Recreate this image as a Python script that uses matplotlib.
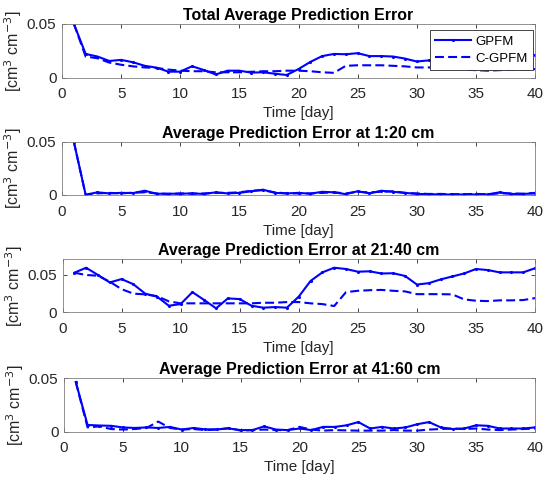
import matplotlib
matplotlib.use("Agg")
import matplotlib.pyplot as plt
import numpy as np

plt.rcParams['font.family'] = ['Liberation Sans', 'DejaVu Sans']

days = list(range(1, 41))

total_gpfm = [0.050, 0.022, 0.0196, 0.0155, 0.0165, 0.0143, 0.011, 0.0093, 0.0056, 0.0056,
              0.0106, 0.0071, 0.003, 0.0065, 0.0065, 0.0047, 0.005, 0.0037, 0.0025, 0.008,
              0.0146, 0.020, 0.022, 0.0217, 0.0227, 0.020, 0.020, 0.0196, 0.0177, 0.015,
              0.016, 0.0165, 0.017, 0.018, 0.018, 0.019, 0.019, 0.020, 0.020, 0.021]
total_cgpfm = [0.050, 0.0196, 0.018, 0.014, 0.012, 0.0105, 0.0095, 0.009, 0.0075, 0.0065,
               0.006, 0.006, 0.005, 0.005, 0.005, 0.0055, 0.006, 0.006, 0.0065, 0.0065,
               0.006, 0.005, 0.0045, 0.011, 0.0115, 0.0115, 0.0115, 0.011, 0.0105, 0.0095,
               0.0095, 0.0095, 0.0095, 0.0075, 0.007, 0.0065, 0.007, 0.0075, 0.0075, 0.008]

l1_gpfm = [0.050, 0.0003, 0.0025, 0.0015, 0.002, 0.0018, 0.004, 0.0012, 0.0012, 0.0012,
           0.0015, 0.001, 0.0025, 0.0015, 0.002, 0.0035, 0.005, 0.002, 0.0015, 0.002,
           0.0012, 0.003, 0.0025, 0.0008, 0.0035, 0.0015, 0.004, 0.003, 0.002, 0.001,
           0.0008, 0.0005, 0.0005, 0.0005, 0.0005, 0.0005, 0.0025, 0.001, 0.001, 0.0015]
l1_cgpfm = [0.050, 0.0, 0.0015, 0.002, 0.0015, 0.0022, 0.0025, 0.0015, 0.001, 0.0015,
            0.0012, 0.0015, 0.002, 0.002, 0.0025, 0.004, 0.0045, 0.0025, 0.0015, 0.0015,
            0.0015, 0.002, 0.0025, 0.0015, 0.003, 0.0025, 0.003, 0.0035, 0.002, 0.0015,
            0.001, 0.001, 0.0008, 0.0008, 0.001, 0.0008, 0.0015, 0.0015, 0.0012, 0.002]

l2_gpfm = [0.053, 0.0597, 0.050, 0.040, 0.0445, 0.0376, 0.025, 0.021, 0.0088, 0.011,
           0.027, 0.0164, 0.0053, 0.0186, 0.0177, 0.0088, 0.0062, 0.007, 0.0062, 0.021,
           0.042, 0.0535, 0.0597, 0.058, 0.0544, 0.0549, 0.052, 0.0523, 0.0487, 0.0372,
           0.039, 0.044, 0.048, 0.052, 0.058, 0.0566, 0.0535, 0.0535, 0.0535, 0.059]
l2_cgpfm = [0.053, 0.050, 0.049, 0.041, 0.031, 0.025, 0.024, 0.0217, 0.0146, 0.012,
            0.012, 0.012, 0.012, 0.012, 0.012, 0.012, 0.0128, 0.0128, 0.0137, 0.0137,
            0.012, 0.011, 0.0084, 0.027, 0.0288, 0.0296, 0.030, 0.0288, 0.028, 0.0243,
            0.0243, 0.0243, 0.024, 0.0173, 0.0155, 0.015, 0.016, 0.016, 0.0164, 0.019]

l3_gpfm = [0.0466, 0.0063, 0.0058, 0.0055, 0.004, 0.0035, 0.004, 0.0035, 0.0045, 0.002,
           0.0035, 0.0022, 0.0022, 0.003, 0.0015, 0.0015, 0.005, 0.002, 0.0015, 0.003,
           0.0015, 0.0045, 0.0045, 0.006, 0.009, 0.003, 0.0045, 0.003, 0.004, 0.007,
           0.009, 0.004, 0.0025, 0.003, 0.006, 0.0055, 0.003, 0.003, 0.003, 0.004]
l3_cgpfm = [0.0466, 0.004, 0.005, 0.0025, 0.002, 0.0025, 0.0035, 0.0095, 0.0035, 0.002,
            0.0025, 0.0015, 0.002, 0.0035, 0.001, 0.0015, 0.002, 0.0015, 0.0015, 0.0045,
            0.002, 0.001, 0.0015, 0.0012, 0.001, 0.001, 0.001, 0.0015, 0.001, 0.001,
            0.002, 0.0025, 0.003, 0.0025, 0.003, 0.002, 0.0015, 0.002, 0.0025, 0.003]

titles = ["Total Average Prediction Error",
          "Average Prediction Error at 1:20 cm",
          "Average Prediction Error at 21:40 cm",
          "Average Prediction Error at 41:60 cm"]
series = [(total_gpfm, total_cgpfm), (l1_gpfm, l1_cgpfm),
          (l2_gpfm, l2_cgpfm), (l3_gpfm, l3_cgpfm)]
ylims = [0.05, 0.05, 0.071, 0.05]
xticks = [0, 5, 10, 15, 20, 25, 30, 35, 40]
yticks = [0, 0.05]
ytick_labels = ["0", "0.05"]

W, H = 550, 483
fig = plt.figure(figsize=(W / 100, H / 100), dpi=100)
# (left, top, right, bottom) in pixels
boxes = [(62, 23.7, 535, 77.7), (62, 141.7, 535, 195),
         (62.5, 259.3, 535, 312.3), (64, 378.3, 535, 431.7)]
blue = (0, 0, 1)
gray = (0.15, 0.15, 0.15)
for i, (b, t, (g, c), yl) in enumerate(zip(boxes, titles, series, ylims)):
    l, tp, r, bt = b
    ax = fig.add_axes([l / W, 1 - bt / H, (r - l) / W, (bt - tp) / H])
    ax.plot(days, g, '-', color=blue, lw=1.5, marker='.', markersize=2.5, label='GPFM')
    ax.plot(days, c, '--', color=blue, lw=1.5, dashes=(4.3, 2.0), label='C-GPFM')
    ax.set_xlim(0, 40)
    ax.set_ylim(0, yl)
    ax.set_xticks(xticks)
    ax.set_yticks(yticks)
    ax.set_yticklabels(ytick_labels)
    ax.tick_params(direction='in', top=True, right=True, length=3, width=0.6,
                   colors=gray, labelsize=11, pad=4)
    ax.tick_params(axis='x', pad=7)
    for s in ax.spines.values():
        s.set_color((0.5, 0.5, 0.5))
        s.set_linewidth(0.6)
    ax.set_title(t, fontsize=11.5, fontweight='bold', pad=3, color='black')
    ax.set_xlabel("Time [day]", fontsize=11, labelpad=3.5, color=gray)
    ax.set_ylabel("[cm$^{3}$ cm$^{-3}$]", fontsize=11.5, labelpad=2, color=gray)
    if i == 0:
        ax_w = r - l
        ax_h = bt - tp
        anchor = ((532.7 - l) / ax_w, (bt - 30) / ax_h)
        leg = ax.legend(loc='upper right', bbox_to_anchor=anchor, fontsize=9.5,
                        frameon=True, fancybox=False, borderaxespad=0.0,
                        handlelength=2.7, borderpad=0.4, labelspacing=0.4,
                        handletextpad=0.3)
        leg.get_frame().set_edgecolor(gray)
        leg.get_frame().set_linewidth(0.6)
        leg.get_frame().set_alpha(1)

fig.savefig("out.png", dpi=100)
